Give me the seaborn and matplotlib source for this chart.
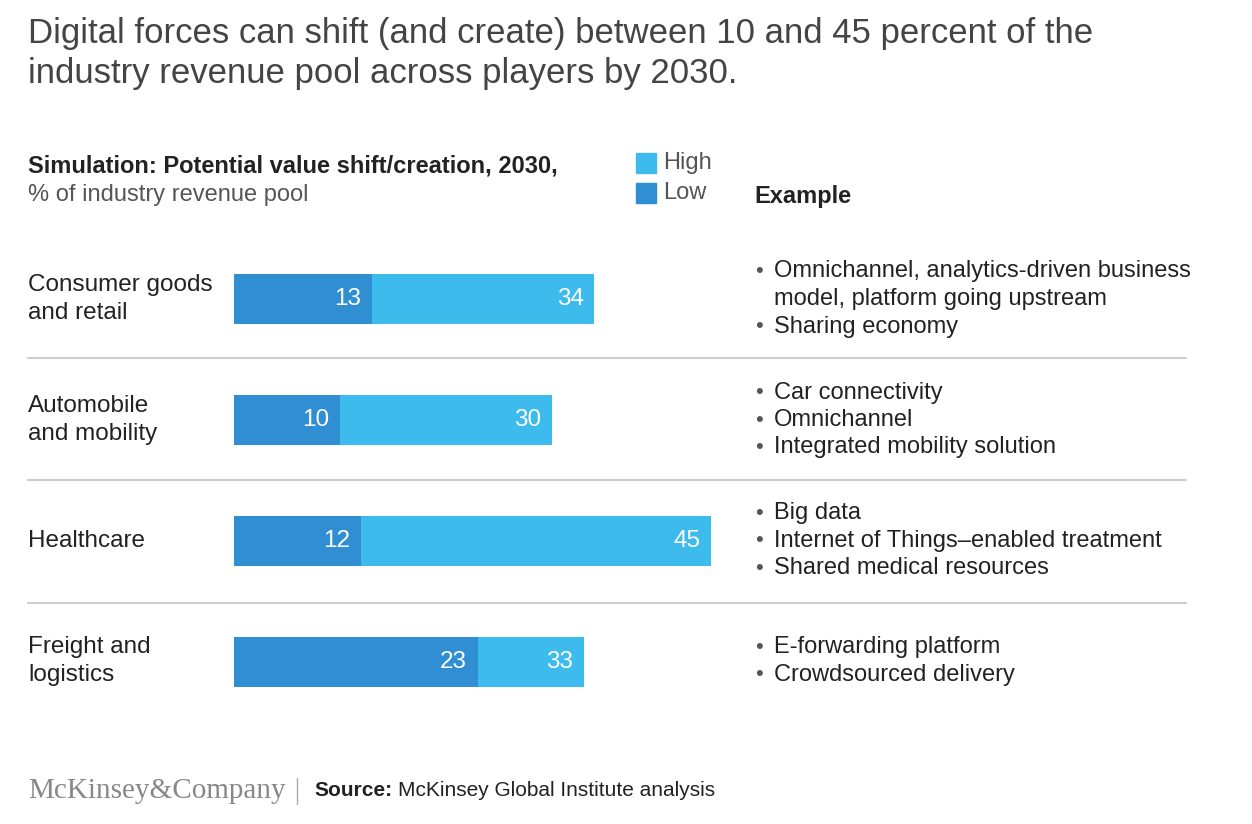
import matplotlib
matplotlib.use("Agg")
import matplotlib.pyplot as plt
import seaborn as sns
import pandas as pd
from matplotlib.lines import Line2D

categories = ["Consumer goods\nand retail", "Automobile\nand mobility", "Healthcare", "Freight and\nlogistics"]
low = [13, 10, 12, 23]
high = [34, 30, 45, 33]
examples = [
    ["Omnichannel, analytics-driven business\nmodel, platform going upstream", "Sharing economy"],
    ["Car connectivity", "Omnichannel", "Integrated mobility solution"],
    ["Big data", "Internet of Things–enabled treatment", "Shared medical resources"],
    ["E-forwarding platform", "Crowdsourced delivery"],
]
HIGH_C = "#3dbbec"
LOW_C = "#2f8fd2"
TXT = "#222222"

sns.set_theme(style="white")
plt.rcParams['font.family'] = ['Liberation Sans', 'DejaVu Sans']

W, H = 1252, 824
fig = plt.figure(figsize=(W/100, H/100), dpi=100)
def fx(x): return x / W
def fy(y): return 1 - y / H

ax = fig.add_axes([fx(234), fy(722.5), 477 / W, 484 / H])
df = pd.DataFrame({"cat": categories, "low": low, "high": high})
sns.barplot(data=df, x="high", y="cat", color=HIGH_C, width=0.41, ax=ax, saturation=1, linewidth=0)
sns.barplot(data=df, x="low", y="cat", color=LOW_C, width=0.41, ax=ax, saturation=1, linewidth=0)
ax.set_xlim(0, 45)
ax.set_ylim(3.5, -0.5)
ax.axis("off")
for i, (l, h) in enumerate(zip(low, high)):
    ax.text(l - 1.0, i, str(l), ha="right", va="center", color="white", fontsize=17.5)
    ax.text(h - 1.0, i, str(h), ha="right", va="center", color="white", fontsize=17.5)

fig.text(fx(28), fy(34), "Digital forces can shift (and create) between 10 and 45 percent of the",
         fontsize=25, color="#444444", va="center")
fig.text(fx(28), fy(73), "industry revenue pool across players by 2030.",
         fontsize=25, color="#444444", va="center")
fig.text(fx(28), fy(166), "Simulation: Potential value shift/creation, 2030,", fontsize=17, fontweight="bold", color=TXT, va="center")
fig.text(fx(28), fy(195), "% of industry revenue pool", fontsize=17, color="#555555", va="center")
for y, c, lab in [(163, HIGH_C, "High"), (193, LOW_C, "Low")]:
    fig.patches.append(plt.Rectangle((fx(636), fy(y + 10)), 20 / W, 20 / H, transform=fig.transFigure, color=c))
    fig.text(fx(663), fy(y), lab, fontsize=17, color="#555555", va="center")
fig.text(fx(754), fy(196), "Example", fontsize=17, fontweight="bold", color=TXT, va="center")

centers = [299, 420, 541, 661]
for i, c in enumerate(categories):
    fig.text(fx(28), fy(centers[i]), c, fontsize=17.5, color=TXT, va="center", linespacing=1.35)
    lines = []
    for e in examples[i]:
        parts = e.split("\n")
        lines.append(("• ", parts[0]))
        for p in parts[1:]:
            lines.append(("", p))
    n = len(lines)
    for j, (b, t) in enumerate(lines):
        y = centers[i] + (j - (n - 1) / 2) * 27.5
        if b:
            fig.text(fx(755), fy(y), "•", fontsize=16, color="#555555", va="center")
        fig.text(fx(774), fy(y), t, fontsize=17, color=TXT, va="center")

for y in [358, 480, 603]:
    fig.add_artist(Line2D([fx(28), fx(1186)], [fy(y), fy(y)], color="#cccccc", lw=1.5))

fig.text(fx(28), fy(791), "McKinsey&Company", fontsize=21, family=["Liberation Serif", "DejaVu Serif"], color="#888888", va="center")
fig.add_artist(Line2D([fx(297), fx(297)], [fy(778), fy(804)], color="#aaaaaa", lw=1))
fig.text(fx(314), fy(791), "Source:", fontsize=15, fontweight="bold", color=TXT, va="center")
fig.text(fx(398), fy(791), "McKinsey Global Institute analysis", fontsize=15, color=TXT, va="center")

fig.savefig("out.png", dpi=100, facecolor="white")
